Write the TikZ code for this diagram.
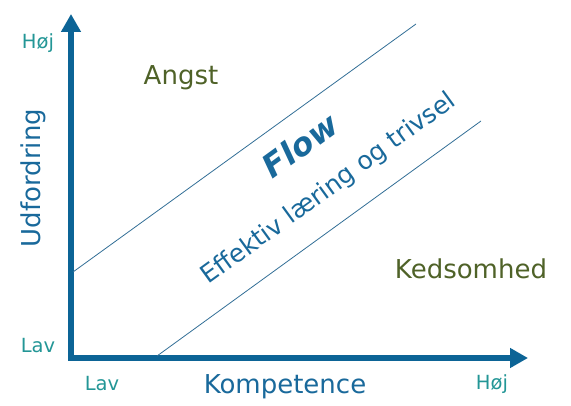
\documentclass[tikz,border=0pt]{standalone}
\usepackage{fontspec}
\setmainfont{DejaVu Sans}
\usetikzlibrary{arrows.meta}
\definecolor{axisblue}{RGB}{12,100,150}
\definecolor{labteal}{RGB}{35,150,150}
\definecolor{titleblue}{RGB}{25,105,155}
\definecolor{zonegreen}{RGB}{79,98,40}
\definecolor{lineblue}{RGB}{50,110,150}
\begin{document}
\begin{tikzpicture}[x=1pt,y=-1pt,
  every node/.style={inner sep=0pt,outer sep=0pt},
  small/.style={text=labteal,font=\fontsize{19.5}{19.5}\selectfont},
  axlab/.style={text=titleblue,font=\fontsize{26}{26}\selectfont},
  zone/.style={text=zonegreen,font=\fontsize{26}{26}\selectfont},
  axis/.style={draw=axisblue,line width=6pt,line join=miter,
    {Triangle[length=18pt,width=19pt]}-{Triangle[length=18pt,width=19pt]}},
  band/.style={draw=lineblue,line width=0.8pt}]
\useasboundingbox (0,0) rectangle (571,406);
\coordinate (ytip) at (71,14);
\coordinate (origin) at (71,358);
\coordinate (xtip) at (528,358);
\draw[axis] (ytip) -- (origin) -- (xtip);
\coordinate (u1) at (73,272);
\coordinate (u2) at (416,24);
\coordinate (l1) at (157,356);
\coordinate (l2) at (481,121);
\draw[band] (u1) -- (u2);
\draw[band] (l1) -- (l2);
\node[small] (hojy) at (38,43) {Høj};
\node[small] (lavy) at (38,346) {Lav};
\node[small] (lavx) at (102,384) {Lav};
\node[small] (hojx) at (492,384) {Høj};
\node[axlab] (komp) at (285,387) {Kompetence};
\node[axlab,rotate=90] (udf) at (33,178) {Udfordring};
\node[zone] (angst) at (181,78) {Angst};
\node[zone] (keds) at (471,269) {Kedsomhed};
\node[text=titleblue,rotate=36,font=\fontsize{32}{32}\selectfont\bfseries\itshape] (flow) at (300,145) {Flow};
\node[text=titleblue,rotate=36,font=\fontsize{25}{25}\selectfont] (eff) at (329,189) {Effektiv læring og trivsel};
\end{tikzpicture}
\end{document}
